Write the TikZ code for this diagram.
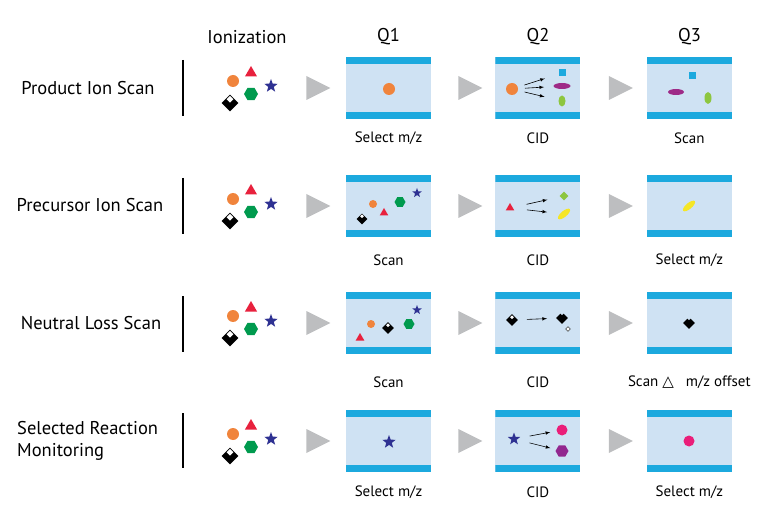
\documentclass[tikz,border=0pt]{standalone}
\usepackage{fontspec}
\setmainfont{PT Sans}
\newfontfamily\symfont{DejaVu Sans}
\usetikzlibrary{shapes.geometric,positioning}

\definecolor{qfill}{HTML}{CFE2F3}
\definecolor{qbar}{HTML}{1CA9DE}
\definecolor{flowgray}{HTML}{BDBEC0}
\definecolor{ionorange}{HTML}{F0843C}
\definecolor{ionred}{HTML}{E8213D}
\definecolor{ionblue}{HTML}{2E3192}
\definecolor{iongreen}{HTML}{009A4E}
\definecolor{fragcyan}{HTML}{1CA9DE}
\definecolor{fragmag}{HTML}{9E2A87}
\definecolor{fragolive}{HTML}{8DC63F}
\definecolor{fragyellow}{HTML}{F5E626}
\definecolor{fragpink}{HTML}{EA1E79}
\definecolor{fragpurple}{HTML}{92278F}

\begin{document}
\begin{tikzpicture}[
                        x=1pt, y=-1pt,
                        node distance=2cm,
                        >=latex,
                        head/.style={font=\fontsize{18.5}{22}\selectfont, inner sep=0pt},
                        lbl/.style={font=\fontsize{15}{18}\selectfont, inner sep=0pt},
                        qbox/.style={rectangle, fill=qfill, minimum width=85pt, minimum height=62pt, inner sep=0pt,
                            path picture={
                                \fill[qbar] (path picture bounding box.north west) rectangle ([yshift=-7pt]path picture bounding box.north east);
                                \fill[qbar] (path picture bounding box.south west) rectangle ([yshift=7pt]path picture bounding box.south east);}},
                        flow/.style={isosceles triangle, isosceles triangle stretches, fill=flowgray, minimum width=24pt, minimum height=24pt, inner sep=0pt},
                        sep/.style={line width=1.8pt},
                        ion/.style={inner sep=0pt},
                        dot/.style={ion, circle, fill=#1},
                        tri/.style={ion, regular polygon, regular polygon sides=3, fill=#1},
                        hexa/.style={ion, regular polygon, regular polygon sides=6, fill=#1},
                        starion/.style={ion, star, star points=5, star point ratio=2.4, fill=#1},
                        blob/.style={ion, ellipse, fill=#1},
                        sq/.style={ion, rectangle, fill=#1},
                        dia/.style={ion, diamond, fill=#1},
                        cid/.style 2 args={->, line width=0.6pt, shorten <=#1, shorten >=#2}
                    ]
                    \useasboundingbox (0,0) rectangle (768,529);

                    % Headers
                    \node [head] (hion) at (247,37) {Ionization};
                    \node [head] (hq1) at (388.5,37) {Q1};
                    \node [head] (hq2) at (538,37) {Q2};
                    \node [head] (hq3) at (689.5,37) {Q3};

                    % Scan modes
                    \node [head] (prod) at (88,88) {Product Ion Scan};
                    \node [head] (prec) at (90,205) {Precursor Ion Scan};
                    \node [head] (neut) at (91,323) {Neutral Loss Scan};
                    \node [head, align=left, anchor=west] (srm) at (17,441) {Selected Reaction\\Monitoring};
                    \draw [sep] (183,60) -- (183,116);
                    \draw [sep] (183,178) -- (183,234);
                    \draw [sep] (183,296) -- (183,352);
                    \draw [sep] (183,413) -- (183,468);

                    % Quadrupoles
                    \node [qbox] (q11) at (388.5,88) {};
                    \node [qbox, right=64pt of q11] (q12) {};
                    \node [qbox, right=66pt of q12] (q13) {};
                    \node [qbox] (q21) at (388.5,206) {};
                    \node [qbox, right=64pt of q21] (q22) {};
                    \node [qbox, right=66pt of q22] (q23) {};
                    \node [qbox] (q31) at (388.5,323) {};
                    \node [qbox, right=64pt of q31] (q32) {};
                    \node [qbox, right=66pt of q32] (q33) {};
                    \node [qbox] (q41) at (388.5,441) {};
                    \node [qbox, right=64pt of q41] (q42) {};
                    \node [qbox, right=66pt of q42] (q43) {};

                    % Flow
                    \node [flow, left=15pt of q11] (f10) {};
                    \node [flow, right=27pt of q11] (f11) {};
                    \node [flow, right=28pt of q12] (f12) {};
                    \node [flow, left=15pt of q21] (f20) {};
                    \node [flow, right=27pt of q21] (f21) {};
                    \node [flow, right=28pt of q22] (f22) {};
                    \node [flow, left=15pt of q31] (f30) {};
                    \node [flow, right=27pt of q31] (f31) {};
                    \node [flow, right=28pt of q32] (f32) {};
                    \node [flow, left=15pt of q41] (f40) {};
                    \node [flow, right=27pt of q41] (f41) {};
                    \node [flow, right=28pt of q42] (f42) {};

                    % Modes of each quadrupole
                    \node [lbl] (m11) at ([yshift=-19pt]q11.south) {Select m/z};
                    \node [lbl] (m12) at ([yshift=-19pt]q12.south) {CID};
                    \node [lbl] (m13) at ([yshift=-19pt]q13.south) {Scan};
                    \node [lbl] (m21) at ([yshift=-23pt]q21.south) {Scan};
                    \node [lbl] (m22) at ([yshift=-23pt]q22.south) {CID};
                    \node [lbl] (m23) at ([yshift=-23pt]q23.south) {Select m/z};
                    \node [lbl] (m31) at ([yshift=-28pt]q31.south) {Scan};
                    \node [lbl] (m32) at ([yshift=-28pt]q32.south) {CID};
                    \node [lbl] (m33) at ([yshift=-28pt]q33.south) {Scan {\symfont △}\hspace{8pt} m/z offset};
                    \node [lbl] (m41) at ([yshift=-20pt]q41.south) {Select m/z};
                    \node [lbl] (m42) at ([yshift=-20pt]q42.south) {CID};
                    \node [lbl] (m43) at ([yshift=-20pt]q43.south) {Select m/z};

                    % Ionization
                    \node [dot=ionorange, minimum size=12pt] (i1c) at (233,81) {};
                    \node [tri=ionred, minimum size=14pt] (i1t) at (251,73) {};
                    \node [starion=ionblue, minimum size=14pt] (i1s) at (271,86) {};
                    \node [hexa=iongreen, minimum size=14pt] (i1h) at (251,94) {};
                    \node [dia=black, minimum size=17pt] (i1d) at (230,103) {};
                    \node [dia=white, minimum size=7pt] (i1n) at ([yshift=-5pt]i1d.north) {};
                    \node [dot=ionorange, minimum size=12pt] (i2c) at (233,199) {};
                    \node [tri=ionred, minimum size=14pt] (i2t) at (251,191) {};
                    \node [starion=ionblue, minimum size=14pt] (i2s) at (271,204) {};
                    \node [hexa=iongreen, minimum size=14pt] (i2h) at (251,212) {};
                    \node [dia=black, minimum size=17pt] (i2d) at (230,221) {};
                    \node [dia=white, minimum size=7pt] (i2n) at ([yshift=-5pt]i2d.north) {};
                    \node [dot=ionorange, minimum size=12pt] (i3c) at (233,316) {};
                    \node [tri=ionred, minimum size=14pt] (i3t) at (251,308) {};
                    \node [starion=ionblue, minimum size=14pt] (i3s) at (271,321) {};
                    \node [hexa=iongreen, minimum size=14pt] (i3h) at (251,329) {};
                    \node [dia=black, minimum size=17pt] (i3d) at (230,338) {};
                    \node [dia=white, minimum size=7pt] (i3n) at ([yshift=-5pt]i3d.north) {};
                    \node [dot=ionorange, minimum size=12pt] (i4c) at (233,434) {};
                    \node [tri=ionred, minimum size=14pt] (i4t) at (251,426) {};
                    \node [starion=ionblue, minimum size=14pt] (i4s) at (271,439) {};
                    \node [hexa=iongreen, minimum size=14pt] (i4h) at (251,447) {};
                    \node [dia=black, minimum size=17pt] (i4d) at (230,456) {};
                    \node [dia=white, minimum size=7pt] (i4n) at ([yshift=-5pt]i4d.north) {};

                    % Product ion scan
                    \node [dot=ionorange, minimum size=12pt] (a11) at (389,89) {};
                    \node [dot=ionorange, minimum size=12pt] (a12) at (512,89) {};
                    \node [sq=fragcyan, minimum size=7pt] (b12) at (562,73) {};
                    \node [blob=fragmag, minimum width=17pt, minimum height=6pt] (c12) at (562,86) {};
                    \node [blob=fragolive, minimum width=7pt, minimum height=11pt] (d12) at (562,101) {};
                    \node [sq=fragcyan, minimum size=7pt] (b13) at (692,76) {};
                    \node [blob=fragmag, minimum width=16pt, minimum height=6pt] (c13) at (676,92) {};
                    \node [blob=fragolive, minimum width=7pt, minimum height=12pt] (d13) at (708,98) {};
                    \draw [cid={13pt}{18pt}] (a12.center) -- (b12.center);
                    \draw [cid={13pt}{18pt}] (a12.center) -- (c12.center);
                    \draw [cid={13pt}{18pt}] (a12.center) -- (d12.center);

                    % Precursor ion scan
                    \node [dia=black, minimum size=11pt] (a21) at (362,219) {};
                    \node [dia=white, minimum size=4pt] (n21) at ([yshift=-3pt]a21.north) {};
                    \node [dot=ionorange, minimum size=8pt] (b21) at (373,204) {};
                    \node [tri=ionred, minimum size=10pt] (c21) at (384,213) {};
                    \node [hexa=iongreen, minimum size=11pt] (d21) at (400,202) {};
                    \node [starion=ionblue, minimum size=10pt] (e21) at (417,193) {};
                    \node [tri=ionred, minimum size=10pt] (a22) at (510,208) {};
                    \node [dia=fragolive, minimum size=9pt] (b22) at (564,196) {};
                    \node [blob=fragyellow, minimum width=15pt, minimum height=6pt, rotate=40] (c22) at (564,214) {};
                    \node [blob=fragyellow, minimum width=15pt, minimum height=6pt, rotate=40] (c23) at (689,206) {};
                    \draw [cid={17pt}{17pt}] (a22.center) -- (b22.center);
                    \draw [cid={17pt}{17pt}] (a22.center) -- (c22.center);

                    % Neutral loss scan
                    \node [tri=ionred, minimum size=10pt] (a31) at (360,338) {};
                    \node [dot=ionorange, minimum size=8pt] (b31) at (371,324) {};
                    \node [dia=black, minimum size=12pt] (c31) at (388,328) {};
                    \node [dia=white, minimum size=4pt] (n31) at ([yshift=-3.5pt]c31.north) {};
                    \node [hexa=iongreen, minimum size=11pt] (d31) at (409,324) {};
                    \node [starion=ionblue, minimum size=10pt] (e31) at (417,310) {};
                    \node [dia=black, minimum size=12pt] (a32) at (512,320) {};
                    \node [dia=white, minimum size=4pt] (n32) at ([yshift=-3.5pt]a32.north) {};
                    \node [dia=black, minimum size=12pt] (b32) at (562,318) {};
                    \node [dia=qfill, minimum size=7pt] (h32) at (b32.north) {};
                    \node [dia=white, draw=black, line width=0.4pt, minimum size=5pt] (w32) at (568,329) {};
                    \node [dia=black, minimum size=12pt] (b33) at (689,323) {};
                    \node [dia=qfill, minimum size=7pt] (h33) at (b33.north) {};
                    \draw [cid={15pt}{15pt}] (a32.center) -- (b32.center);

                    % Selected reaction monitoring
                    \node [starion=ionblue, minimum size=14pt] (a41) at (389,442) {};
                    \node [starion=ionblue, minimum size=13pt] (a42) at (514,439) {};
                    \node [dot=fragpink, minimum size=11pt] (b42) at (562,430) {};
                    \node [hexa=fragpurple, minimum size=13pt] (c42) at (562,451) {};
                    \node [dot=fragpink, minimum size=11pt] (b43) at (689,441) {};
                    \draw [cid={16pt}{12pt}] (a42.center) -- (b42.center);
                    \draw [cid={16pt}{12pt}] (a42.center) -- (c42.center);
                \end{tikzpicture}
\end{document}
